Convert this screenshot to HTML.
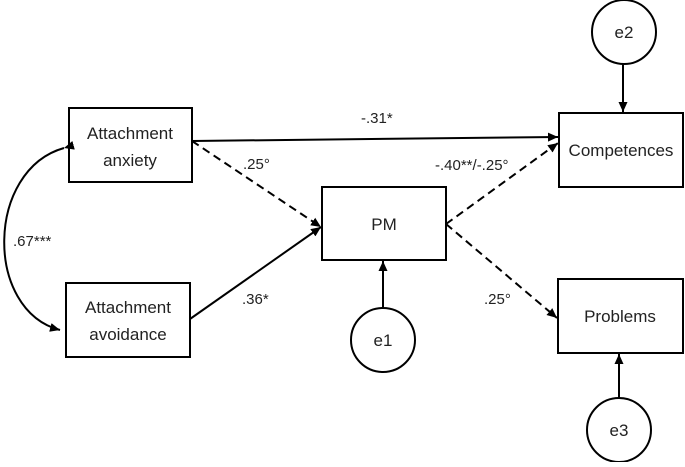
<!DOCTYPE html>
<html><head><meta charset="utf-8"><style>
html,body{margin:0;padding:0;background:#fff;}
svg text{font-family:"Liberation Sans",sans-serif;fill:#222;}
</style></head><body>
<svg width="685" height="462" viewBox="0 0 685 462" xmlns="http://www.w3.org/2000/svg">
<defs>
<marker id="a" markerWidth="11" markerHeight="11" refX="10" refY="5.5" orient="auto" markerUnits="userSpaceOnUse">
<path d="M0,1 L10,5.5 L0,10 Z" fill="#000"/></marker>
</defs>
<g fill="none" stroke="#000" stroke-width="2">
<rect x="69" y="108" width="123" height="74"/>
<rect x="66" y="283" width="124" height="74"/>
<rect x="322" y="187" width="124" height="73"/>
<rect x="559" y="113" width="124" height="74"/>
<rect x="558" y="279" width="125" height="74"/>
<circle cx="624" cy="32" r="32"/>
<circle cx="383" cy="340" r="32"/>
<circle cx="619" cy="430" r="32"/>
<path d="M64,148 C-14,170 -16,310 60,330" marker-start="url(#a)" marker-end="url(#a)"/>
<line x1="192" y1="141" x2="558" y2="137" marker-end="url(#a)"/>
<line x1="192" y1="141" x2="321" y2="227" stroke-dasharray="8,5" marker-end="url(#a)"/>
<line x1="190" y1="319" x2="321" y2="227" marker-end="url(#a)"/>
<line x1="446" y1="224" x2="558" y2="143" stroke-dasharray="8,5" marker-end="url(#a)"/>
<line x1="446" y1="224" x2="557" y2="318" stroke-dasharray="8,5" marker-end="url(#a)"/>
<line x1="623" y1="64" x2="623" y2="112" marker-end="url(#a)"/>
<line x1="383" y1="308" x2="383" y2="261" marker-end="url(#a)"/>
<line x1="619" y1="398" x2="619" y2="354" marker-end="url(#a)"/>
</g>
<g font-size="17" text-anchor="middle">
<text x="130" y="139">Attachment</text>
<text x="130" y="166">anxiety</text>
<text x="128" y="313">Attachment</text>
<text x="128" y="340">avoidance</text>
<text x="384" y="230">PM</text>
<text x="621" y="156">Competences</text>
<text x="620" y="322">Problems</text>
<text x="624" y="38">e2</text>
<text x="383" y="346">e1</text>
<text x="619" y="436">e3</text>
</g>
<g font-size="15">
<text x="13" y="246">.67***</text>
<text x="243" y="169">.25°</text>
<text x="242" y="304">.36*</text>
<text x="361" y="123">-.31*</text>
<text x="435" y="170">-.40**/-.25°</text>
<text x="484" y="304">.25°</text>
</g>
</svg>
</body></html>
